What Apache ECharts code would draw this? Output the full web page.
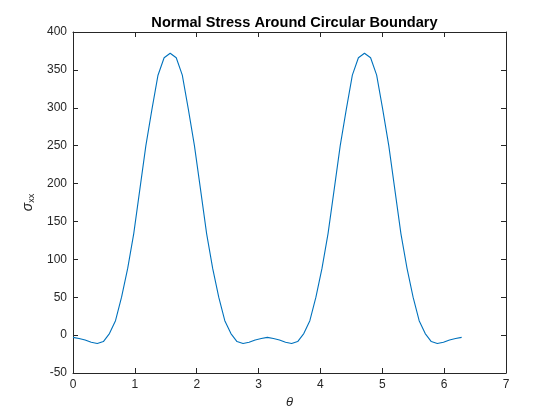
<!DOCTYPE html>
<html>
<head>
<meta charset="utf-8">
<script src="https://cdn.jsdelivr.net/npm/echarts@6/dist/echarts.min.js"></script>
<style>html,body{margin:0;padding:0;background:#fff}#c{width:560px;height:420px}</style>
</head>
<body>
<div id="c"></div>
<script>
var theta = [0, 0.098, 0.196, 0.295, 0.393, 0.491, 0.589, 0.687, 0.785, 0.884, 0.982, 1.080, 1.178, 1.276, 1.374, 1.473, 1.571,
  1.669, 1.767, 1.865, 1.963, 2.062, 2.160, 2.258, 2.356, 2.454, 2.553, 2.651, 2.749, 2.847, 2.945, 3.043, 3.142,
  3.240, 3.338, 3.436, 3.534, 3.632, 3.731, 3.829, 3.927, 4.025, 4.123, 4.222, 4.320, 4.418, 4.516, 4.614, 4.712,
  4.811, 4.909, 5.007, 5.105, 5.203, 5.301, 5.400, 5.498, 5.596, 5.694, 5.792, 5.890, 5.989, 6.087, 6.185, 6.283];
var sigmaXX = [-3, -4.5, -6.5, -9.5, -11, -8.5, 2, 19, 50, 88, 134, 192, 250, 298, 343, 366, 372,
  366, 343, 298, 250, 192, 134, 88, 50, 19, 2, -8.5, -11, -9.5, -6.5, -4.5, -3,
  -4.5, -6.5, -9.5, -11, -8.5, 2, 19, 50, 88, 134, 192, 250, 298, 343, 366, 372,
  366, 343, 298, 250, 192, 134, 88, 50, 19, 2, -8.5, -11, -9.5, -6.5, -4.5, -3];
var titleText = 'Normal Stress Around Circular Boundary';

var pts = theta.map(function (t, i) { return [t, sigmaXX[i]]; });
var axCol = '#262626';
var font = 'Liberation Sans, Arial, sans-serif';
function xa(pos, show) {
  return {
    type: 'value', position: pos, min: 0, max: 7, interval: 1,
    axisLine: { show: true, onZero: false, lineStyle: { color: axCol, width: 1 } },
    axisTick: { show: true, inside: true, length: 5, lineStyle: { color: axCol } },
    axisLabel: { show: show, color: axCol, fontSize: 12, fontFamily: font, margin: 6 },
    splitLine: { show: false }
  };
}
function ya(pos, show) {
  return {
    type: 'value', position: pos, min: -50, max: 400, interval: 50,
    axisLine: { show: true, onZero: false, lineStyle: { color: axCol, width: 1 } },
    axisTick: { show: true, inside: true, length: 5, lineStyle: { color: axCol } },
    axisLabel: { show: show, color: axCol, fontSize: 12, fontFamily: font, margin: 6 },
    splitLine: { show: false }
  };
}
var x0 = xa('bottom', true);
x0.name = 'θ';
x0.nameLocation = 'middle';
x0.nameGap = 23;
x0.nameTextStyle = { color: axCol, fontSize: 13, fontStyle: 'italic', fontFamily: font };
var y0 = ya('left', true);
y0.name = '{s|σ}{sub|xx}';
y0.nameLocation = 'middle';
y0.nameGap = 35;
y0.nameRotate = 90;
y0.nameTextStyle = {
  color: axCol, fontFamily: font,
  rich: {
    s: { fontSize: 14, fontStyle: 'italic', color: axCol, fontFamily: font },
    sub: { fontSize: 9, color: axCol, fontFamily: font, verticalAlign: 'bottom', padding: [6, 0, 0, 0] }
  }
};
var chart = echarts.init(document.getElementById('c'), null, { renderer: 'canvas' });
chart.setOption({
  animation: false,
  backgroundColor: '#fff',
  title: {
    text: titleText, left: 289.5, textAlign: 'center', top: 10,
    textStyle: { fontSize: 14.6, fontWeight: 'bold', color: '#000', fontFamily: font }
  },
  grid: { left: 73, right: 54, top: 32, bottom: 47, containLabel: false },
  xAxis: [x0, xa('top', false)],
  yAxis: [y0, ya('right', false)],
  series: [{
    type: 'line', data: pts, xAxisIndex: 0, yAxisIndex: 0,
    showSymbol: false, smooth: false,
    lineStyle: { color: '#0072BD', width: 1.1 }
  }]
});
</script>
</body>
</html>
